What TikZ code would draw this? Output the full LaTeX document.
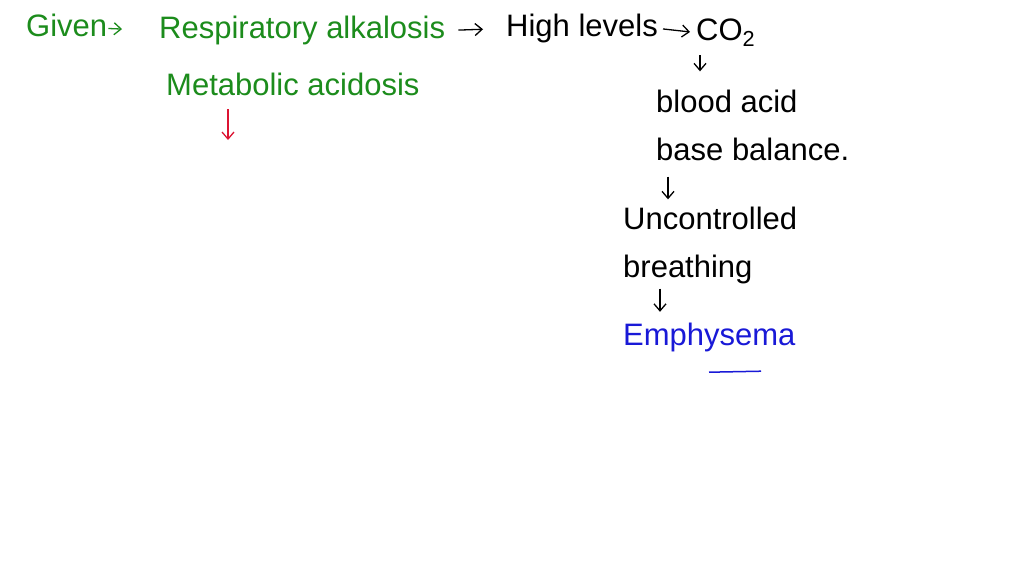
\documentclass[tikz,border=0pt]{standalone}
\usepackage{fontspec}
\setmainfont{Liberation Sans}
\usepackage{tikz}
\usetikzlibrary{arrows.meta,calc,positioning}

\definecolor{notegreen}{RGB}{28,140,28}
\definecolor{notered}{RGB}{220,20,50}
\definecolor{noteblue}{RGB}{25,25,215}

\begin{document}
\begin{tikzpicture}[x=1pt, y=-1pt, >={Straight Barb[length=7pt,width=12pt]},
  word/.style={anchor=base west, inner sep=1pt, text height=22pt, text depth=7pt,
    font=\fontsize{31}{48}\selectfont},
  lines/.style={anchor=base west, inner sep=1pt, align=left,
    font=\fontsize{31}{48}\selectfont},
  link/.style={->, line width=1.3pt}]
  \useasboundingbox[fill=white] (0,0) rectangle (1024,576);

  % left column (green)
  \node[word, notegreen] (given) at (25,36) {Given};
  \node[word, notegreen] (resp) at (158,38) {Respiratory alkalosis};
  \node[word, notegreen] (metab) at (165,95) {Metabolic acidosis};
  \coordinate (metabend) at (228,140);

  % chain on the right (base = last line)
  \node[word] (high) at (505,36) {High levels};
  \node[word] (co2) at (695,40) {CO\textsubscript{2}};
  \node[lines] (blood) at (655,160) {blood acid\\base balance.};
  \node[lines] (breath) at (622,277) {Uncontrolled\\breathing};
  \node[word, noteblue] (emph) at (622,345) {Emphysema};

  \draw[link, notegreen, shorten >=36pt] (given.east) -- (resp.west);
  \draw[link, notered, shorten <=6pt] (metabend |- metab.south) -- (metabend);
  \draw[link, shorten <=12pt, shorten >=22pt] (resp.east) -- (high.west);
  \draw[link, shorten <=4pt, shorten >=5pt] (high.east) -- (co2.west);
  \draw[link, shorten <=7pt, shorten >=17pt] ([xshift=5pt]co2.south west) -- ([xshift=5pt]co2.south west |- blood.north);
  \draw[link, shorten <=15pt, shorten >=6pt] ([xshift=13pt]blood.south west) -- ([xshift=13pt]blood.south west |- breath.north);
  \draw[link, shorten <=4pt, shorten >=10pt] ([xshift=38pt]breath.south west) -- ([xshift=38pt]breath.south west |- emph.north);

  % underline
  \draw[noteblue, line width=1.5pt] ($(emph.south west)+(87,19)$) -- ++(52,-1);
\end{tikzpicture}
\end{document}
